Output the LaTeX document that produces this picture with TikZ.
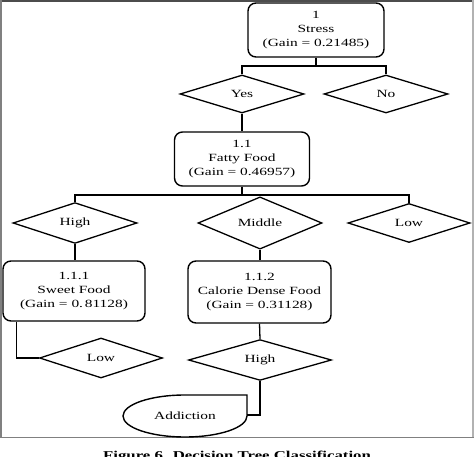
\documentclass[tikz,border=0pt]{standalone}
\usepackage{fontspec}
\setmainfont[FakeStretch=1.4]{Liberation Serif}
\usetikzlibrary{shapes.geometric}
\begin{document}
\begin{tikzpicture}[x=1pt,y=-1pt,
  every node/.style={font=\fontsize{11}{14}\selectfont, text=black},
  box/.style={draw, line width=1.4pt, rounded corners=8pt, align=center, inner sep=0pt},
  dia/.style={draw, diamond, line width=1.3pt, inner sep=0pt},
  conn/.style={draw, line width=1.3pt},
  frame/.style={line width=2pt}]
\useasboundingbox (0,0) rectangle (474,457);
% frame
\draw[frame, draw=black!70] (0,1) -- (474,1);
\draw[frame, draw=black!50] (1,0) -- (1,438);
\draw[frame, draw=black!30] (473,0) -- (473,438);
\draw[line width=1.5pt, draw=black!50] (0,437.5) -- (474,437.5);
% nodes
\node[box, minimum width=136, minimum height=54] (n1) at (316,30) {1\\Stress\\(Gain = 0.21485)};
\node[dia, minimum width=124, minimum height=38] (yes) at (242,94) {Yes};
\node[dia, minimum width=124, minimum height=38] (no) at (386,94) {No};
\node[box, minimum width=135, minimum height=54] (n11) at (242,159) {1.1\\Fatty Food\\(Gain = 0.46957)};
\node[dia, minimum width=124, minimum height=39] (high) at (75,223) {High};
\node[dia, minimum width=124, minimum height=39] (middle) at (260,223) {Middle};
\node[dia, minimum width=122, minimum height=39] (low) at (409,223) {Low};
\node[box, minimum width=142, minimum height=60] (n111) at (74,291) {1.1.1\\Sweet Food\\(Gain = 0.\,81128)};
\node[box, minimum width=143, minimum height=62] (n112) at (259.5,292) {1.1.2\\Calorie Dense Food\\(Gain = 0.31128)};
\node[dia, minimum width=123, minimum height=40] (low2) at (101,358) {Low};
\node[dia, minimum width=143, minimum height=39] (high2) at (260,360) {High};
\node (add) at (185,416) {Addiction};
\draw[line width=1.4pt] (247,395) -- (185,395) arc[start angle=270, end angle=90, x radius=62, y radius=21]
  arc[start angle=90, end angle=0, x radius=62, y radius=21] -- cycle;
\coordinate (addE) at (247,415);
% junctions
\coordinate (j1) at (316,66);
\coordinate (j2) at (242,195);
% connectors
\draw[conn] (n1.south) -- (j1);
\draw[conn] (yes.north) |- (j1) -| (no.north);
\draw[conn] (yes.south) -- (n11.north);
\draw[conn] (n11.south) -- (j2);
\draw[conn] (high.north) |- (j2) -| (low.north);
\draw[conn] (middle.north) -- (middle.north |- j2);
\draw[conn] (high.south) -- (high.south |- n111.north);
\draw[conn] (middle.south) -- (middle.south |- n112.north);
\draw[conn] ([xshift=14pt]n111.south west) |- (low2.west);
\draw[conn] (n112.south) -- (high2.north);
\draw[conn] (high2.south) |- (addE);
% caption
\node[font=\fontsize{12}{14}\bfseries\selectfont, anchor=base] (cap) at (237,459.5) {Figure 6. Decision Tree Classification};
\end{tikzpicture}
\end{document}
